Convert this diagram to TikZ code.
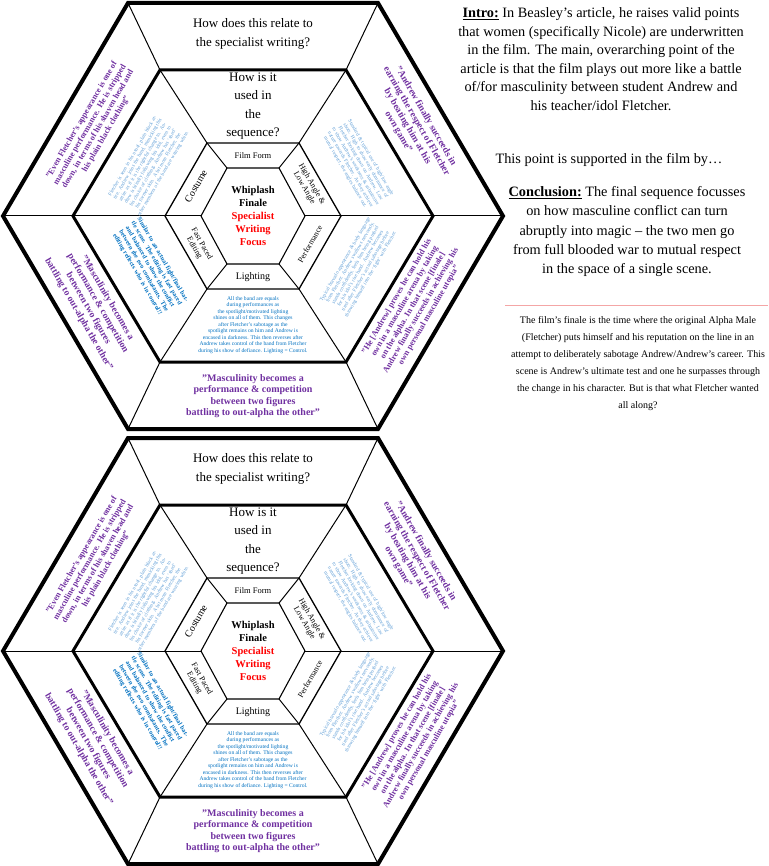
\documentclass[tikz,border=0pt]{standalone}
\usepackage{fontspec}
\setmainfont{Liberation Serif}
\definecolor{pur}{HTML}{7030A0}
\definecolor{lblue}{HTML}{5B9BD5}
\definecolor{dblue}{HTML}{0070C0}
\definecolor{pinkl}{HTML}{F4A6A6}
\tikzset{
  thinl/.style={line width=1pt},
  purtxt/.style={text=pur,font=\fontsize{8.3}{9.3}\selectfont\bfseries,align=center,inner sep=0pt},
  bluetxt/.style={text=lblue,font=\fontsize{5.1}{5.9}\selectfont,align=center,inner sep=0pt},
  lab/.style={font=\fontsize{10}{11}\selectfont,align=center,inner sep=0pt},
}
\newcommand\hexdiagram[2]{%
\begin{scope}[shift={(0,#1)}]
 \foreach \a/\b in {{(3,216)}/{(73,216)},{(128,3)}/{(160,70)},{(378,3)}/{(346,70)},{(503,216)}/{(433,216)},{(378,429)}/{(346,362)},{(128,429)}/{(160,362)},
   {(73,216)}/{(165,216)},{(160,70)}/{(207,143)},{(346,70)}/{(299,143)},{(433,216)}/{(341,216)},{(346,362)}/{(299,289)},{(160,362)}/{(207,289)},
   {(165,216)}/{(201,216)},{(207,143)}/{(227,168)},{(299,143)}/{(279,168)},{(341,216)}/{(305,216)},{(299,289)}/{(279,264)},{(207,289)}/{(227,264)}}
   \draw[thinl] \a -- \b;
 \draw[line width=4pt,line join=miter] (3,216)--(128,3)--(378,3)--(503,216)--(378,429)--(128,429)--cycle;
 \draw[line width=3pt] (73,216)--(160,70)--(346,70)--(433,216)--(346,362)--(160,362)--cycle;
 \draw[line width=1.3pt] (165,216)--(207,143)--(299,143)--(341,216)--(299,289)--(207,289)--cycle;
 \draw[line width=1.1pt] (201,216)--(227,168)--(279,168)--(305,216)--(279,264)--(227,264)--cycle;
 % outer ring
 \node[font=\fontsize{13}{19}\selectfont,align=center] (#2q1) at (253,34) {How does this relate to\\the specialist writing?};
 \node[purtxt] (#2o1) at (94,127) [rotate=60] {''Even Fletcher's appearance is one of\\masculine performance. He is stripped\\down, in terms of his shaven head and\\his plain black clothing''};
 \node[purtxt,font=\fontsize{9.5}{10.5}\selectfont\bfseries] (#2o2) at (412,124) [rotate=-60] {''Andrew finally succeeds in\\earning the respect of Fletcher\\by beating him at his\\own game''};
 \node[purtxt] (#2o3) at (413,306) [rotate=60] {''He [Andrew] proves he can hold his\\own in a masculine arena by taking\\on the alpha. In that scene [finale]\\Andrew finally succeeds in achieving his\\own personal masculine utopia''};
 \node[purtxt,font=\fontsize{9.5}{11}\selectfont\bfseries] (#2o4) at (93,306) [rotate=-60] {''Masculinity becomes a\\performance \& competition\\between two figures\\battling to out-alpha the other''};
 \node[purtxt,font=\fontsize{10}{11.5}\selectfont\bfseries] (#2o5) at (253,396) {''Masculinity becomes a\\performance \& competition\\between two figures\\battling to out-alpha the other''};
 % middle ring
 \node[font=\fontsize{13}{18.5}\selectfont,align=center] (#2q2) at (253,106) {How is it\\used in\\the\\sequence?};
 \node[bluetxt,text width=108pt] (#2m1) at (148,165) [rotate=60] {Fletcher is seen in his usual, plain black attire. Andrew joins the band, mimicking this attire as if it is the rightful change to. Andrew is blindly following his idol, even to his choice of clothing. Andrew has `shed' his former skin. A bit more Fletcher, the other members of the band are wearing white.};
 \node[bluetxt,text width=108pt] (#2m2) at (358,165) [rotate=-60] {Standard \& typical use of high/low angle shots. High to show early dominance of Fletcher looking down on Andrew. Low to show Andrew's weakness \& submissive nature towards Fletcher. As they achieve mutual respect, the angles balance out.};
 \node[bluetxt,text width=108pt] (#2m3) at (358,267) [rotate=60] {Typical bravado appearance \& body language from Fletcher. Andrew swallows nervously, stands confidently, feels him being pushed for his idol's rise band. Andrew becomes tired after Fletcher's actual sabotage before throwing himself into the `fight' with Fletcher.};
 \node[bluetxt,text width=100pt,text=dblue,font=\fontsize{6.3}{7.3}\selectfont\bfseries] (#2m4) at (150,267) [rotate=-60] {Similar to an actual fight/final battle scene. The editing is fast paced and balanced to show the conflict between the two combatants. The editing reflects who is in control!!};
 \node[bluetxt,text=dblue,font=\fontsize{5.6}{6.5}\selectfont] (#2m5) at (253,325) {All the band are equals\\during performances as\\the spotlight/motivated lighting\\shines on all of them. This changes\\after Fletcher's sabotage as the\\spotlight remains on him and Andrew is\\encased in darkness. This then reverses after\\Andrew takes control of the band from Fletcher\\during his show of defiance. Lighting = Control.};
 % inner ring
 \node[lab,font=\fontsize{8.5}{9}\selectfont] (#2i1) at (253,156) {Film Form};
 \node[lab,font=\fontsize{8}{8.5}\selectfont] (#2i2) at (308,186) [rotate=-60] {High Angle \&\\Low Angle};
 \node[lab,font=\fontsize{8}{8.5}\selectfont] (#2i3) at (310,244) [rotate=60] {Performance};
 \node[lab] (#2i4) at (253,277) {Lighting};
 \node[lab,font=\fontsize{8}{8.5}\selectfont] (#2i5) at (198,246) [rotate=-60] {Fast Paced\\Editing};
 \node[lab] (#2i6) at (196,186) [rotate=60] {Costume};
 \node[align=center,font=\fontsize{10.5}{13}\selectfont\bfseries] (#2c) at (253,216) {Whiplash\\Finale\\\textcolor{red}{Specialist}\\\textcolor{red}{Writing}\\\textcolor{red}{Focus}};
\end{scope}}
\begin{document}
\begin{tikzpicture}[x=1pt,y=-1pt]
\useasboundingbox (0,0) rectangle (768,866);
\hexdiagram{0}{a}
\hexdiagram{435}{b}
\node[font=\fontsize{14.3}{18.6}\selectfont,align=center,anchor=north] (intro) at (601,4) {\underline{\textbf{Intro:}} In Beasley's article, he raises valid points\\
that women (specifically Nicole) are underwritten\\
in the film. The main, overarching point of the\\
article is that the film plays out more like a battle\\
of/for masculinity between student Andrew and\\
his teacher/idol Fletcher.};
\node[font=\fontsize{14.3}{18}\selectfont] (point) at (609,160) {This point is supported in the film by…};
\node[font=\fontsize{14.3}{19.2}\selectfont,align=center,anchor=north] (concl) at (627,183) {\underline{\textbf{Conclusion:}} The final sequence focusses\\
on how masculine conflict can turn\\
abruptly into magic – the two men go\\
from full blooded war to mutual respect\\
in the space of a single scene.};
\coordinate (l1) at (505,305);
\coordinate (l2) at (768,305);
\draw[pinkl,line width=1pt] (l1)--(l2);
\node[font=\fontsize{10}{17}\selectfont,align=center,anchor=north] (fin) at (638,313) {The film's finale is the time where the original Alpha Male\\
(Fletcher) puts himself and his reputation on the line in an\\
attempt to deliberately sabotage Andrew/Andrew's career. This\\
scene is Andrew's ultimate test and one he surpasses through\\
the change in his character. But is that what Fletcher wanted\\
all along?};
\end{tikzpicture}
\end{document}
